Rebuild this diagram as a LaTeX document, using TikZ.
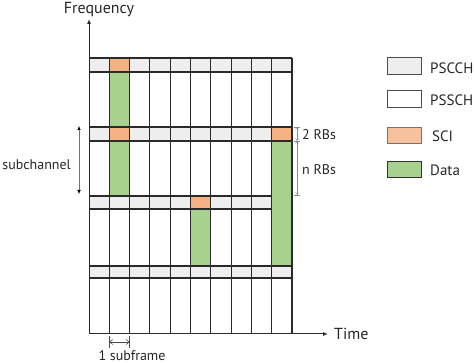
\documentclass[tikz,border=0pt]{standalone}
\usepackage{fontspec}
\setmainfont{PT Sans}
\usetikzlibrary{arrows.meta}
\definecolor{ctrl}{HTML}{EEEEEE}
\definecolor{sci}{HTML}{F4B183}
\definecolor{data}{HTML}{A9D18E}
\definecolor{gridc}{HTML}{2A2A2A}
\tikzset{
  gridline/.style={draw=gridc, line width=1.1pt},
  lbl/.style={inner sep=0pt, text=black!85, font=\fontsize{14}{14}\selectfont},
  leglbl/.style={inner sep=0pt, text=black!85, font=\fontsize{15}{15}\selectfont},
  biglbl/.style={inner sep=0pt, text=black!85, font=\fontsize{16}{16}\selectfont},
  legbox/.style={draw=black!70, line width=1pt},
  dim/.style={draw=black!45, line width=0.5pt},
  axis/.style={draw=gridc, line width=1pt, -{Latex[length=5pt,width=4pt]}},
}
\begin{document}
\begin{tikzpicture}[x=1pt,y=-1pt]
\useasboundingbox (0,0) rectangle (474,363);
% PSCCH bands
\foreach \a/\b in {58/72,127/141,196/209,266/278}
  \fill[ctrl] (89,\a) rectangle (292,\b);
% SCI cells
\fill[sci] (109.3,58) rectangle (129.6,72);
\fill[sci] (109.3,127) rectangle (129.6,141);
\fill[sci] (190.5,196) rectangle (210.8,209);
\fill[sci] (271.7,127) rectangle (292,141);
% grid lines
\foreach \y in {58,72,127,141,196,209,266,278}
  \draw[gridline] (89,\y) -- (292,\y);
\foreach \i in {1,...,10}
  \draw[gridline] ({89+20.3*\i},58) -- ({89+20.3*\i},334);
% Data cells
\draw[gridline, fill=data] (109.3,72) rectangle (129.6,127);
\draw[gridline, fill=data] (109.3,141) rectangle (129.6,196);
\draw[gridline, fill=data] (190.5,209) rectangle (210.8,266);
\draw[gridline, fill=data] (271.7,141) rectangle (292,266);
% axes
\coordinate (o) at (89,334);
\coordinate (ftip) at (89,19);
\coordinate (ttip) at (328,334);
\draw[axis] (o) -- (ftip);
\draw[axis] (o) -- (ttip);
\node[biglbl] (freq) at (99,10) {Frequency};
\node[biglbl, anchor=west] (time) at (334,334) {Time};
% subchannel
\coordinate (s1) at (79,126);
\coordinate (s2) at (79,194);
\draw[dim, draw=black!55, {Latex[length=4pt,width=3.5pt,color=black]}-{Latex[length=4pt,width=3.5pt,color=black]}] (s1) -- (s2);
\node[lbl, anchor=east] (sub) at (71,165) {subchannel};
% RBs
\coordinate (r1) at (297,127);
\coordinate (r2) at (297,141);
\coordinate (r3) at (297,195);
\draw[dim, {Straight Barb[length=2pt,width=3pt]}-{Straight Barb[length=2pt,width=3pt]}] (r1) -- (r2);
\draw[dim, {Straight Barb[length=2pt,width=3pt]}-{Straight Barb[length=2pt,width=3pt]}] (r2) -- (r3);
\foreach \p in {r1,r2,r3}
  \draw[dim] ([xshift=-3pt]\p) -- ([xshift=3pt]\p);
\node[lbl, anchor=west] (rb2) at (302,135) {2 RBs};
\node[lbl, anchor=west] (rbn) at (302,170) {n RBs};
% subframe
\coordinate (f1) at (109.3,342);
\coordinate (f2) at (129.6,342);
\draw[black!70, line width=0.6pt] (109.3,336) -- (109.3,348);
\draw[black!70, line width=0.6pt] (129.6,336) -- (129.6,348);
\draw[black!70, line width=0.6pt, {Straight Barb[length=3pt,width=5pt]}-{Straight Barb[length=3pt,width=5pt]}] (f1) -- (f2);
\node[lbl] (sf) at (132,355.5) {1 subframe};
% legend
\draw[legbox, fill=ctrl] (387,58) rectangle (421,75);
\draw[legbox, fill=white] (387,91) rectangle (421,108);
\draw[legbox, draw=black!55, fill=sci!80] (387,128) rectangle (421,144);
\draw[legbox, draw=black!80, fill=data] (387,162) rectangle (421,178);
\node[leglbl, anchor=west] (l1) at (430,68) {PSCCH};
\node[leglbl, anchor=west] (l2) at (430,100) {PSSCH};
\node[leglbl, anchor=west] (l3) at (432,136) {SCI};
\node[leglbl, anchor=west] (l4) at (430,170) {Data};
\end{tikzpicture}
\end{document}
